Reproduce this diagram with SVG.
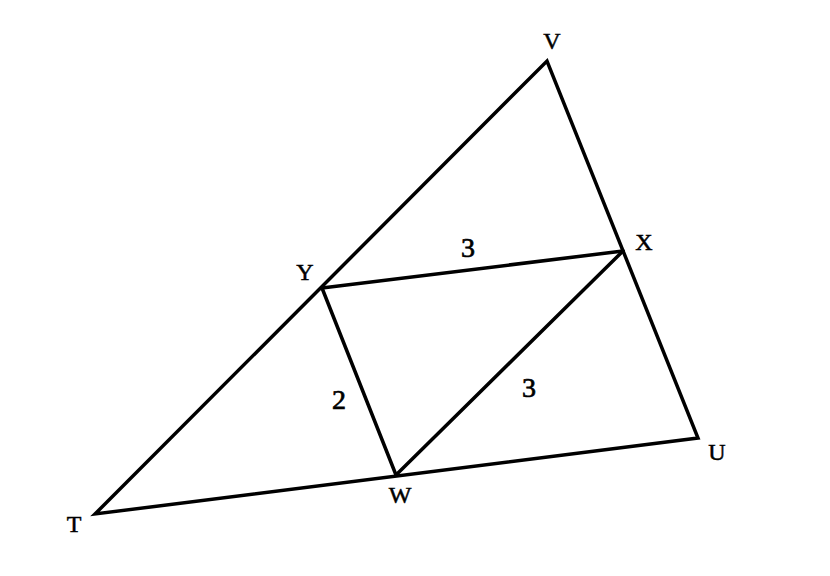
<svg xmlns="http://www.w3.org/2000/svg" width="830" height="576" viewBox="0 0 830 576">
<style>
.edge{stroke:#000;stroke-width:3.5;fill:none;stroke-linecap:round;stroke-linejoin:miter}
.lbl{font-family:"Liberation Serif","DejaVu Serif",serif;font-size:24px;fill:#000;stroke:#000;stroke-width:0.5;text-anchor:middle}
.num{font-family:"Liberation Serif","DejaVu Serif",serif;font-size:28px;fill:#000;stroke:#000;stroke-width:0.7;text-anchor:middle}
</style>
<rect width="830" height="576" fill="#fff"/>
<g id="connectors">
<polygon class="edge" points="95,514 547,61 698,438"/>
<line class="edge" x1="322" y1="288" x2="623" y2="251"/>
<line class="edge" x1="322" y1="288" x2="396" y2="475"/>
<line class="edge" x1="396" y1="475" x2="623" y2="251"/>
</g>
<g id="T"><text class="lbl" x="74" y="532">T</text></g>
<g id="V"><text class="lbl" x="552" y="49">V</text></g>
<g id="X"><text class="lbl" x="644" y="250">X</text></g>
<g id="Y"><text class="lbl" x="305" y="280">Y</text></g>
<g id="W"><text class="lbl" x="400" y="503">W</text></g>
<g id="U"><text class="lbl" x="717" y="460">U</text></g>
<g id="labels">
<text class="num" x="468" y="257">3</text>
<text class="num" x="529" y="397">3</text>
<text class="num" x="339" y="409">2</text>
</g>
</svg>
